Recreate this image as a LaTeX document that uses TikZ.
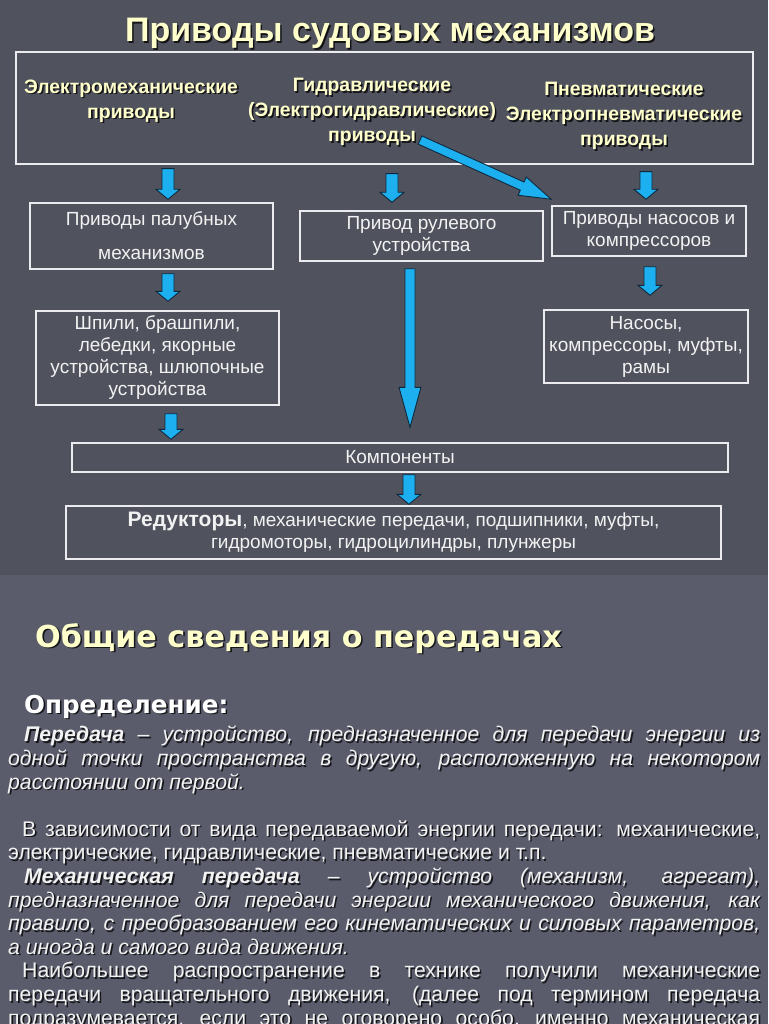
\documentclass[tikz,border=0pt]{standalone}
\usepackage{fontspec}
\setmainfont{Liberation Sans}
\newfontfamily\dvs{DejaVu Sans}
\usetikzlibrary{calc}
\definecolor{bgtop}{RGB}{80,82,94}
\definecolor{bgbot}{RGB}{90,92,107}
\definecolor{arrowfill}{RGB}{28,176,240}
\definecolor{arrowline}{RGB}{16,40,60}
\definecolor{cream}{RGB}{255,255,204}
\definecolor{boxline}{RGB}{236,236,240}
\definecolor{txt}{RGB}{242,242,242}
\newcommand\barrow[5]{%
 \filldraw[fill=arrowfill, draw=arrowline, line width=0.9pt, line join=miter]
 let \p1=(#1), \p2=(#2), \p3=($(\p2)!#4!(\p1)$), \n1={atan2(\y2-\y1,\x2-\x1)} in
 ($(\p1)+(\n1+90:#3)$) -- ($(\p3)+(\n1+90:#3)$) -- ($(\p3)+(\n1+90:#5)$) -- (\p2)
 -- ($(\p3)+(\n1-90:#5)$) -- ($(\p3)+(\n1-90:#3)$) -- ($(\p1)+(\n1-90:#3)$) -- cycle;}
\newcommand\shnode[5]{%
 \node[#3, text=black, opacity=0.75, #5] (#1s) at ($(#2)+(1.6,1.6)$) {#4};
 \node[#3, #5] (#1) at (#2) {#4};}
\tikzset{
 box/.style={draw=boxline, line width=1.4pt, inner sep=0pt, align=center, text=txt,
   font=\fontsize{19}{22}\selectfont},
 hdr/.style={align=center, text=cream, inner sep=0pt, font=\bfseries\fontsize{19.4}{25}\selectfont},
 ttl/.style={text=cream, inner sep=0pt, font=\bfseries\fontsize{34}{37}\selectfont},
 ttl2/.style={text=cream, inner sep=0pt, font=\dvs\bfseries\fontsize{30.2}{33}\selectfont},
 defn/.style={text=white, inner sep=0pt, font=\dvs\bfseries\fontsize{24.6}{27}\selectfont},
 body/.style={text=txt, inner sep=0pt, text width=752pt, align=justify,
   font=\fontsize{21.2}{23.6}\selectfont},
}
\begin{document}
\begin{tikzpicture}[x=1pt,y=-1pt]
\clip (0,0) rectangle (768,1024);
\fill[bgtop] (0,0) rectangle (768,575);
\fill[bgbot] (0,575) rectangle (768,1024);

% title
\shnode{title}{390,42}{ttl}{Приводы судовых механизмов}{anchor=base}

% big box and its headers
\node[box, minimum width=737pt, minimum height=112pt] (big) at (384.5,108) {};
\shnode{h1}{131,101}{hdr}{Электромеханические\\приводы}{}
\shnode{h2}{372,112}{hdr}{Гидравлические\\(Электрогидравлические)\\приводы}{}
\shnode{h3}{624,116}{hdr}{Пневматические\\Электропневматические\\приводы}{}

% boxes
\node[box, minimum width=243pt, minimum height=66pt] (palub) at (151.5,236) {Приводы палубных\\[12pt]механизмов};
\node[box, minimum width=243pt, minimum height=50pt] (rul) at (421.5,236) {Привод рулевого\\устройства};
\node[box, minimum width=194pt, minimum height=50pt] (nasos) at (649,231) {Приводы насосов и\\компрессоров};
\node[box, minimum width=243pt, minimum height=94pt] (shpili) at (157.5,358) {Шпили, брашпили,\\лебедки, якорные\\устройства, шлюпочные\\устройства};
\node[box, minimum width=204pt, minimum height=73pt] (nasosy) at (646,346.5) {Насосы,\\компрессоры, муфты,\\рамы};
\node[box, minimum width=656pt, minimum height=29pt] (komp) at (400,457.5) {Компоненты};
\node[box, minimum width=655pt, minimum height=53pt] (reduk) at (393.5,532.5)
 {{\bfseries\fontsize{21}{22}\selectfont Редукторы}, механические передачи, подшипники, муфты,\\гидромоторы, гидроцилиндры, плунжеры};

% arrow columns
\coordinate (c1) at (168,0);
\coordinate (c2) at (392,0);
\coordinate (c3) at (646,0);
\coordinate (c4) at (168,0);
\coordinate (c5) at (410,0);
\coordinate (c6) at (650,0);
\coordinate (c7) at (171,0);
\coordinate (c8) at (409,0);
\coordinate (dstart) at (420,140);

\barrow{$(big.south -| c1)+(0,4)$}{$(palub.north -| c1)+(0,-3)$}{6pt}{10pt}{12pt}
\barrow{$(big.south -| c2)+(0,9)$}{$(rul.north -| c2)+(0,-8)$}{6pt}{10pt}{12pt}
\barrow{$(big.south -| c3)+(0,7)$}{$(nasos.north -| c3)+(0,-6)$}{6pt}{10pt}{12pt}
\barrow{$(palub.south -| c4)+(0,4)$}{$(shpili.north -| c4)+(0,-9)$}{6pt}{10pt}{12pt}
\barrow{$(rul.south -| c5)+(0,7)$}{$(komp.north -| c5)+(0,-15)$}{5pt}{40pt}{11pt}
\barrow{$(nasos.south -| c6)+(0,10)$}{$(nasosy.north -| c6)+(0,-14)$}{6pt}{10pt}{12pt}
\barrow{$(shpili.south -| c7)+(0,8)$}{$(komp.north -| c7)+(0,-3)$}{6pt}{10pt}{12pt}
\barrow{$(komp.south -| c8)+(0,2)$}{$(reduk.north -| c8)+(0,-1)$}{6pt}{10pt}{12pt}
\barrow{dstart}{$(nasos.north west)+(0,-6)$}{4.5pt}{32pt}{10pt}

% second slide
\shnode{title2}{35,647}{ttl2}{Общие сведения о передачах}{anchor=base west}
\shnode{defn}{24,713}{defn}{Определение:}{anchor=base west}
\shnode{para}{8,726}{body}{%
\hspace*{16pt}{\itshape\bfseries Передача} {\itshape – устройство, предназначенное для передачи энергии из\linebreak
одной точки пространства в другую, расположенную на некотором\linebreak
расстоянии от первой.}\par\vskip23.6pt
\hspace*{14pt}В зависимости от вида передаваемой энергии передачи: механические,\linebreak
электрические, гидравлические, пневматические и т.п.\par
\hspace*{16pt}{\itshape\bfseries Механическая передача} {\itshape – устройство (механизм, агрегат),\linebreak
предназначенное для передачи энергии механического движения, как\linebreak
правило, с преобразованием его кинематических и силовых параметров,\linebreak
а иногда и самого вида движения.}\par
\hspace*{14pt}Наибольшее распространение в технике получили механические\linebreak
передачи вращательного движения, (далее под термином передача\linebreak
подразумевается, если это не оговорено особо, именно механическая\linebreak
передача вращательного движения).}{anchor=north west}
\end{tikzpicture}
\end{document}
